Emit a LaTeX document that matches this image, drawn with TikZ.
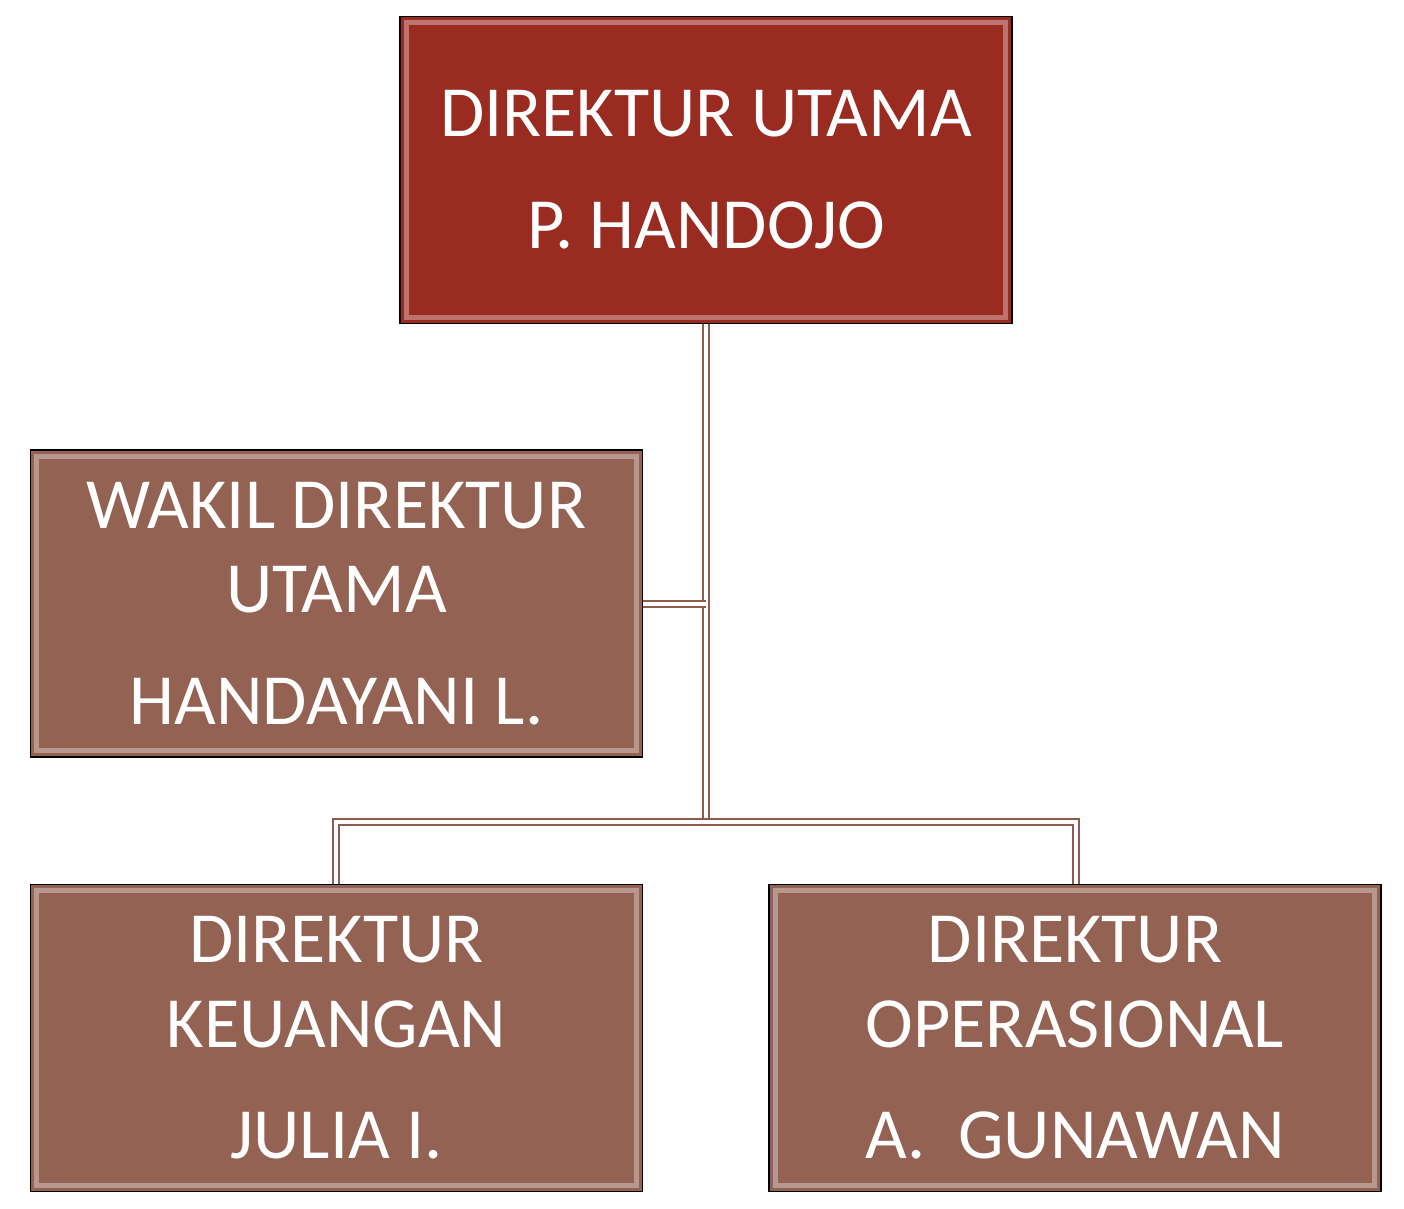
\documentclass[tikz,border=0pt]{standalone}
\usepackage{fontspec}
\setmainfont{Carlito}
\begin{document}
\begin{tikzpicture}[x=0.02cm,y=-0.02cm,
  box/.style={draw=black,line width=0.8pt,minimum width=12.24cm,minimum height=6.14cm,
    text=white,align=center,font=\fontsize{41}{48}\selectfont,inner sep=0pt},
  top/.style={box,fill=topc},
  sub/.style={box,fill=subc},
  conn/.style={draw=linec,line width=1.3pt,double=white,double distance=2.2pt}]
\definecolor{topc}{HTML}{9A2B21}
\definecolor{subc}{HTML}{936252}
\definecolor{linec}{HTML}{8E5C4D}
\useasboundingbox (0,0) rectangle (1404,1208);
\node[top] (du) at (706,170) {DIREKTUR UTAMA\\[0.55cm] P. HANDOJO};
\node[sub] (wk) at (336.5,603.5) {WAKIL DIREKTUR\\UTAMA\\[0.55cm] HANDAYANI L.};
\node[sub] (dk) at (336.5,1038) {DIREKTUR\\KEUANGAN\\[0.55cm] JULIA I.};
\node[sub] (do) at (1075,1038) {DIREKTUR\\OPERASIONAL\\[0.55cm] A.\ \ GUNAWAN};
\coordinate (j1) at (706,604);
\coordinate (j2) at (706,822);
\coordinate (l) at (336,822);
\coordinate (r) at (1076,822);
\draw[conn] (du.south) -- (j2);
\draw[conn] (j1) -- (wk.east |- j1);
\draw[conn] (j2) -- (l) -- (dk.north -| l);
\draw[conn] (j2) -- (r) -- (do.north -| r);
\foreach \n in {du,wk,dk,do}{
  \draw[white,opacity=0.35,line width=3pt] ([shift={(7,7)}]\n.north west) rectangle ([shift={(-7,-7)}]\n.south east);
}
\end{tikzpicture}
\end{document}
